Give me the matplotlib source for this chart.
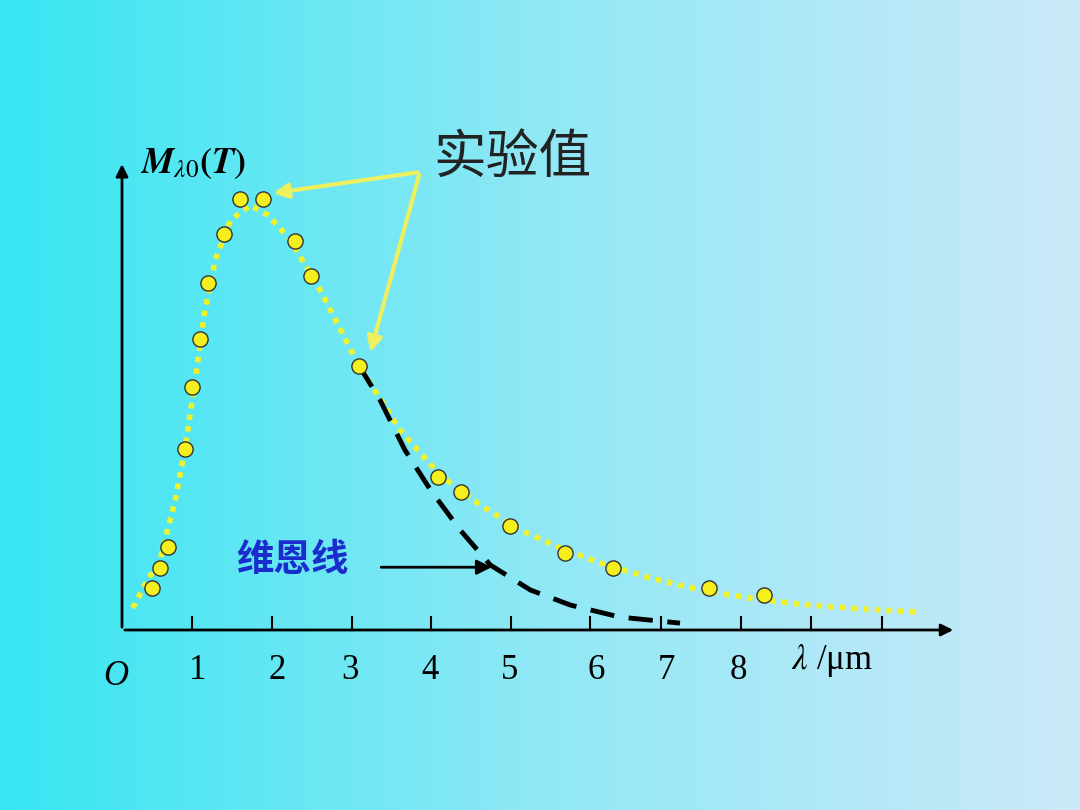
import numpy as np
import matplotlib.pyplot as plt
from matplotlib.colors import LinearSegmentedColormap

plt.rcParams['font.family'] = ['Noto Sans CJK SC', 'DejaVu Sans']
plt.rcParams['mathtext.fontset'] = 'stix'

# data: wavelength (um) and relative exitance (peak ~ 1)
exp_x = [0.50, 0.60, 0.70, 0.91, 1.00, 1.10, 1.20, 1.40, 1.60, 1.89,
         2.29, 2.49, 3.09, 4.08, 4.36, 4.98, 5.66, 6.26, 7.46, 8.15]
exp_y = [0.098, 0.144, 0.193, 0.421, 0.565, 0.677, 0.807, 0.921, 1.002, 1.002,
         0.905, 0.823, 0.614, 0.356, 0.321, 0.242, 0.179, 0.144, 0.098, 0.081]

fit_x = [0.26, 0.41, 0.60, 0.79, 0.91, 1.04, 1.16, 1.29, 1.48, 1.73, 1.95,
         2.23, 2.60, 3.09, 3.60, 4.10, 4.60, 5.10, 5.60, 6.10, 6.73, 7.35,
         7.98, 8.60, 9.35, 10.04]
fit_y = [0.051, 0.105, 0.163, 0.302, 0.419, 0.581, 0.742, 0.860, 0.953, 0.988,
         0.965, 0.907, 0.791, 0.614, 0.465, 0.360, 0.291, 0.233, 0.191, 0.156,
         0.121, 0.093, 0.074, 0.060, 0.049, 0.042]

wien_x = [3.09, 3.35, 3.66, 3.98, 4.35, 4.73, 5.23, 5.73, 6.35, 7.10]
wien_y = [0.614, 0.535, 0.419, 0.326, 0.233, 0.151, 0.093, 0.058, 0.030, 0.016]

tick_pos = [1, 2, 3, 3.99, 4.99, 5.98, 6.86, 7.86, 8.74, 9.63]
label_x = [1.07, 2.07, 2.97, 3.97, 4.97, 6.05, 6.93, 7.83]
label_txt = ['1', '2', '3', '4', '5', '6', '7', '8']

W, H = 1080, 810
fig = plt.figure(figsize=(10.8, 8.1), dpi=100)

bg = fig.add_axes([0, 0, 1, 1])
cmap = LinearSegmentedColormap.from_list('bg', ['#36e6f2', '#90e8f5', '#cce9f9'])
bg.imshow(np.linspace(0, 1, 256)[None, :], aspect='auto', cmap=cmap, extent=[0, 1, 0, 1])
bg.axis('off')

# axes covering the whole figure, data coords: x=(px-112)/80, y=(630-py)/430
ax = fig.add_axes([0, 0, 1, 1])
ax.set_xlim((0 - 112) / 80, (W - 112) / 80)
ax.set_ylim((630 - H) / 430, 630 / 430)
ax.axis('off')
ax.patch.set_alpha(0)

x0 = (122 - 112) / 80
# axes lines
ax.annotate('', xy=(10.55, 0), xytext=(x0, 0),
            arrowprops=dict(arrowstyle='-|>', color='black', lw=2, mutation_scale=18))
ax.annotate('', xy=(x0, 1.09), xytext=(x0, 0),
            arrowprops=dict(arrowstyle='-|>', color='black', lw=2, mutation_scale=18))
for t in tick_pos:
    ax.plot([t, t], [0, 0.03], color='black', lw=1.5)
for lx, s in zip(label_x, label_txt):
    ax.text(lx, -0.055, s, fontsize=25, family='Liberation Serif', ha='center', va='top')
ax.text(0.05, -0.07, 'O', fontsize=25, family='Liberation Serif', style='italic', ha='center', va='top')
ax.text(9.0, -0.07, r'$\lambda$ /μm', fontsize=25, family='Liberation Serif', ha='center', va='center')
ax.text(0.35, 1.085, r'$\boldsymbol{M}_{\lambda 0}\boldsymbol{(T)}$', fontsize=26, ha='left', va='center')

# curves
ax.plot(fit_x, fit_y, color='#f2f22a', lw=4, ls=(0, (1, 1.1)), zorder=3)
ax.plot(wien_x, wien_y, color='black', lw=3.5, ls=(0, (5, 3)), zorder=3)
ax.scatter(exp_x, exp_y, s=120, color='#f5ef1e', edgecolor='#333333', lw=1, zorder=4)

# annotations
ax.text(4.02, 1.10, '实验值', fontsize=38, ha='left', va='center', color='#222222')
ax.annotate('', xy=(1.98, 1.015), xytext=(3.85, 1.065),
            arrowprops=dict(arrowstyle='-|>', color='#eef060', lw=3, mutation_scale=22))
ax.annotate('', xy=(3.22, 0.64), xytext=(3.85, 1.065),
            arrowprops=dict(arrowstyle='-|>', color='#eef060', lw=3, mutation_scale=22))
ax.text(1.55, 0.165, '维恩线', fontsize=27, weight='bold', color='#1a2ccc', ha='left', va='center')
ax.annotate('', xy=(4.78, 0.146), xytext=(3.33, 0.146),
            arrowprops=dict(arrowstyle='-|>', color='black', lw=2, mutation_scale=22))

fig.savefig('out.png', dpi=100)
